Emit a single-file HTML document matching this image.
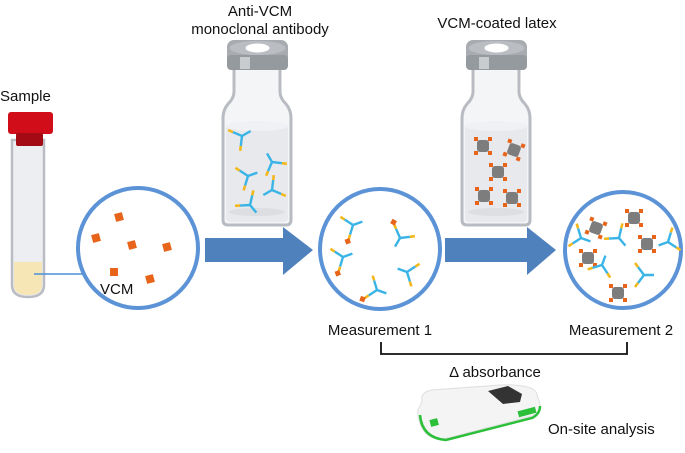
<!DOCTYPE html>
<html><head><meta charset="utf-8"><style>
html,body{margin:0;padding:0;background:#fff;}
svg{display:block;}
text{font-family:"Liberation Sans",Arial,sans-serif;fill:#111;}
</style></head><body>
<svg width="685" height="453" viewBox="0 0 685 453" xmlns="http://www.w3.org/2000/svg">
<defs>
  <g id="ab">
    <path d="M0,0 L0,10 M0,0 L-8,-6 M0,0 L8,-6" stroke="#3ab4e6" stroke-width="2.4" fill="none"/>
    <path d="M-8,-6 L-12,-9 M8,-6 L12,-9" stroke="#f4b81c" stroke-width="2.6"/>
  </g>
  <g id="abv">
    <use href="#ab"/>
    <rect x="-16" y="-13" width="5" height="5" fill="#e8641a"/>
  </g>
  <g id="lx">
    <rect x="-6" y="-6" width="12" height="12" rx="3" fill="#7d7d7d"/>
    <rect x="-9" y="-9" width="4" height="4" fill="#e8641a"/>
    <rect x="5" y="-9" width="4" height="4" fill="#e8641a"/>
    <rect x="-9" y="5" width="4" height="4" fill="#e8641a"/>
    <rect x="5" y="5" width="4" height="4" fill="#e8641a"/>
  </g>
  <g id="vial">
    <path d="M12,28 L12,52 Q12,58 6,64 Q1,70 1,78 L1,180 Q1,185 6,185 L64,185 Q69,185 69,180 L69,78 Q69,70 64,64 Q58,58 58,52 L58,28 Z" fill="#f4f5f7" stroke="#b8bcc2" stroke-width="3"/>
    <path d="M4,86 L66,86 L66,178 Q66,182 62,182 L8,182 Q4,182 4,178 Z" fill="#e7e9ed"/>
    <ellipse cx="35" cy="86" rx="31" ry="5" fill="#f0f1f4"/>
    <ellipse cx="35" cy="172" rx="28" ry="4" fill="#dcdee2"/>
    <rect x="5" y="0" width="61" height="30" rx="7" fill="#a8acb1"/>
    <rect x="5" y="15" width="61" height="15" rx="4" fill="#959a9f"/>
    <ellipse cx="35.5" cy="8" rx="28" ry="7" fill="#babec2"/>
    <ellipse cx="35.5" cy="8" rx="12" ry="4.5" fill="#fff"/>
    <rect x="18" y="17" width="10" height="12" fill="#c9cccf"/>
  </g>
</defs>

<text x="260" y="16" font-size="15" text-anchor="middle">Anti-VCM</text>
<text x="260" y="34" font-size="15" text-anchor="middle">monoclonal antibody</text>
<text x="497" y="28" font-size="15" text-anchor="middle">VCM-coated latex</text>
<text x="0" y="101" font-size="15">Sample</text>

<!-- tube -->
<path d="M12,140 L12,285 Q12,297 28,297 Q44,297 44,285 L44,140 Z" fill="#eceef2" stroke="#b9bcc2" stroke-width="2.5"/>
<path d="M14,262 L42,262 L42,285 Q42,295 28,295 Q14,295 14,285 Z" fill="#f6e6b6"/>
<rect x="8" y="112" width="45" height="22" rx="3" fill="#d10d1a"/>
<rect x="16" y="133" width="27" height="13" rx="2" fill="#a30a13"/>
<line x1="34" y1="274" x2="97" y2="274" stroke="#4a8fd8" stroke-width="1.5"/>
<rect x="94" y="271" width="6" height="6" fill="#4a8fd8" transform="rotate(45 97 274)"/>

<circle cx="138" cy="248" r="60" fill="#fff" stroke="#5b93d6" stroke-width="4"/>
<g fill="#e8641a">
  <rect x="115" y="213" width="8" height="8" transform="rotate(-15 119 217)"/>
  <rect x="92" y="234" width="8" height="8" transform="rotate(-15 96 238)"/>
  <rect x="128" y="241" width="8" height="8" transform="rotate(-15 132 245)"/>
  <rect x="163" y="243" width="8" height="8" transform="rotate(-15 167 247)"/>
  <rect x="110" y="268" width="8" height="8"/>
  <rect x="146" y="275" width="8" height="8" transform="rotate(-15 150 279)"/>
</g>
<text x="100" y="294" font-size="15">VCM</text>

<path d="M205,238 L283,238 L283,227 L313,250 L283,275 L283,262 L205,262 Z" fill="#4f81bd"/>
<path d="M445,238 L527,238 L527,227 L556,250 L527,275 L527,262 L445,262 Z" fill="#4f81bd"/>

<g transform="translate(222,40)"><use href="#vial"/></g>
<g transform="translate(461,40)"><use href="#vial"/></g>
<use href="#ab" transform="translate(242,136) rotate(-120)"/>
<use href="#ab" transform="translate(272,162) rotate(150)"/>
<use href="#ab" transform="translate(248,176) rotate(-110)"/>
<use href="#ab" transform="translate(272,190) rotate(60)"/>
<use href="#ab" transform="translate(250,205) rotate(-40)"/>
<use href="#lx" transform="translate(483,146)"/>
<use href="#lx" transform="translate(514,150) rotate(20)"/>
<use href="#lx" transform="translate(498,172)"/>
<use href="#lx" transform="translate(484,196)"/>
<use href="#lx" transform="translate(512,198)"/>

<circle cx="380" cy="249" r="60" fill="#fff" stroke="#5b93d6" stroke-width="4"/>
<use href="#abv" transform="translate(353,225) rotate(-110)"/>
<use href="#abv" transform="translate(400,238) rotate(30)"/>
<use href="#abv" transform="translate(343,257) rotate(-110)"/>
<use href="#abv" transform="translate(377,290) rotate(-70)"/>
<use href="#ab" transform="translate(407,272) rotate(110)"/>

<circle cx="623" cy="250" r="58" fill="#fff" stroke="#5b93d6" stroke-width="4"/>
<use href="#lx" transform="translate(596,228) rotate(20)"/>
<use href="#lx" transform="translate(634,218)"/>
<use href="#lx" transform="translate(647,244)"/>
<use href="#lx" transform="translate(588,258)"/>
<use href="#lx" transform="translate(618,293)"/>
<use href="#ab" transform="translate(581,238) rotate(-70)"/>
<use href="#ab" transform="translate(619,238) rotate(-40)"/>
<use href="#ab" transform="translate(668,242) rotate(70)"/>
<use href="#ab" transform="translate(602,265) rotate(200)"/>
<use href="#ab" transform="translate(644,275) rotate(-90)"/>

<text x="380" y="335" font-size="15" text-anchor="middle">Measurement 1</text>
<text x="621" y="335" font-size="15" text-anchor="middle">Measurement 2</text>
<path d="M381,342 L381,354 L627,354 L627,342" fill="none" stroke="#111" stroke-width="1.8"/>
<text x="495" y="377" font-size="15" text-anchor="middle">Δ absorbance</text>

<!-- device -->
<path d="M422,402 Q420,392 432,390 L500,385 Q530,384 536,392 L540,404 Q542,412 532,416 L448,438 Q430,442 422,428 Q417,418 418,410 Z" fill="#f4f4f4" stroke="#dedede" stroke-width="1"/>
<path d="M420,415 Q422,438 446,440 L532,418 Q540,414 540,406" fill="none" stroke="#2bbf3a" stroke-width="2.5"/>
<path d="M488,391 L508,386 L522,394 L520,402 L503,404 Z" fill="#333"/>
<rect x="430" y="419" width="8" height="7" fill="#2bbf3a" transform="rotate(-15 434 422)"/>
<rect x="518" y="409" width="18" height="6" fill="#2bbf3a" transform="rotate(-15 527 412)"/>
<text x="548" y="434" font-size="15">On-site analysis</text>
</svg>
</body></html>
